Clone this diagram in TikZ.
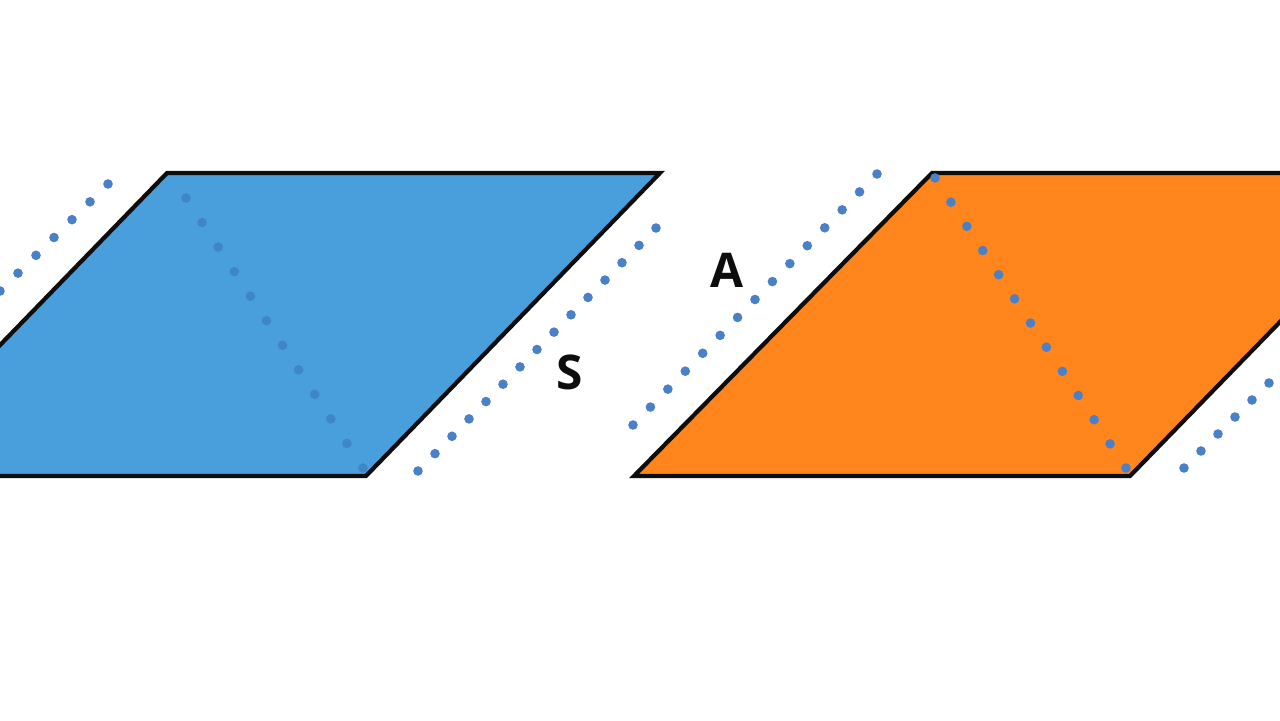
\documentclass[tikz,border=0pt]{standalone}
\usepackage{fontspec}
\setmainfont{Open Sans}
\usetikzlibrary{calc}
\definecolor{blueface}{HTML}{489FDB}
\definecolor{orangeface}{HTML}{FF851C}
\definecolor{dotcol}{HTML}{4A80C8}
\definecolor{dotdark}{HTML}{4086C6}
\newcommand{\dotrow}[4]{\foreach \i in {0,...,#3}\fill[#4]($(#1)!\i/#3!(#2)$)circle(0.12);}
\begin{document}
\begin{tikzpicture}[face/.style={draw=black!95,line width=3pt,line join=miter},
letter/.style={font=\fontsize{34}{34}\selectfont\bfseries,text=black!95,inner sep=0pt}]
\useasboundingbox(0,0)rectangle(32,18);
\clip(0,0)rectangle(32,18);
\fill[white](0,0)rectangle(32,18);
% faces
\draw[face,fill=blueface](4.175,13.675)--(16.5,13.675)--(9.15,6.1)--(-3.175,6.1)--cycle;
\draw[face,fill=orangeface](23.3,13.675)--(35.625,13.675)--(28.25,6.1)--(15.85,6.1)--cycle;
% dotted rows
\coordinate(blueouttop)at(2.7,13.4);
\coordinate(blueoutend)at(0,10.725);
\coordinate(bluerighttop)at(16.4,12.3);
\coordinate(bluerightend)at(10.45,6.225);
\coordinate(bluediagtop)at(4.65,13.05);
\coordinate(bluediagend)at(9.075,6.3);
\coordinate(orangeouttop)at(21.925,13.65);
\coordinate(orangeoutend)at(15.825,7.375);
\coordinate(orangediagtop)at(23.375,13.55);
\coordinate(orangediagend)at(28.15,6.3);
\coordinate(orangerightend)at(29.6,6.3);
\coordinate(orangerighttop)at(32.15,8.85);
\dotrow{blueouttop}{blueoutend}{6}{dotcol}
\dotrow{bluerighttop}{bluerightend}{14}{dotcol}
\dotrow{bluediagtop}{bluediagend}{11}{dotdark}
\dotrow{orangeouttop}{orangeoutend}{14}{dotcol}
\dotrow{orangediagtop}{orangediagend}{12}{dotcol}
\dotrow{orangerightend}{orangerighttop}{6}{dotcol}
% letters
\node[letter](labelA)at(18.18,11.25){A};
\node[letter](labelS)at(14.25,8.7){S};
\end{tikzpicture}
\end{document}
